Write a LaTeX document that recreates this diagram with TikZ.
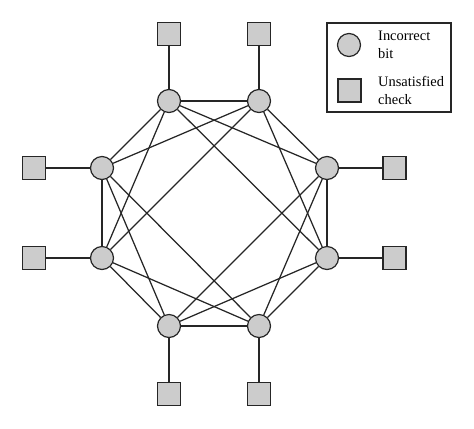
\documentclass[tikz,border=0pt]{standalone}
\usepackage{fontspec}
\setmainfont{Liberation Serif}
\begin{document}
\begin{tikzpicture}[x=1bp,y=-1bp,
  bitnode/.style={circle,draw=black!85,fill=black!20,line width=1.2bp,minimum size=23bp,inner sep=0pt},
  checknode/.style={rectangle,draw=black!85,fill=black!20,line width=1.2bp,minimum size=23bp,inner sep=0pt},
  link/.style={draw=black!85,line width=1.25bp},
  legtext/.style={anchor=west,align=left,font=\fontsize{14.5}{17.4}\selectfont,inner sep=0pt}]
\useasboundingbox (0,0) rectangle (474,428);
% legend
\node[draw=black!85,line width=1.1bp,minimum width=124bp,minimum height=89bp,inner sep=0pt] (legend) at (389,67.5) {};
\node[bitnode] (lbit) at (349,45) {};
\node[checknode] (lchk) at (349.5,90.5) {};
\node[legtext] (tbit) at (378,45) {Incorrect\\bit};
\node[legtext] (tchk) at (378,90.5) {Unsatisfied\\check};
% checks
\node[checknode] (cT1) at (169,34) {};
\node[checknode] (cT2) at (259,34) {};
\node[checknode] (cR1) at (394.5,168) {};
\node[checknode] (cR2) at (394.5,258) {};
\node[checknode] (cB2) at (259,394) {};
\node[checknode] (cB1) at (169,394) {};
\node[checknode] (cL2) at (34,258) {};
\node[checknode] (cL1) at (34,168) {};
% bits
\node[bitnode] (T1) at (169,101) {};
\node[bitnode] (T2) at (259,101) {};
\node[bitnode] (R1) at (327,168) {};
\node[bitnode] (R2) at (327,258) {};
\node[bitnode] (B2) at (259,326) {};
\node[bitnode] (B1) at (169,326) {};
\node[bitnode] (L2) at (102,258) {};
\node[bitnode] (L1) at (102,168) {};
% edges
\foreach \a/\b in {T1/T2,T2/R1,R1/R2,R2/B2,B2/B1,B1/L2,L2/L1,L1/T1,
  T1/R1,T1/L2,T2/R2,T2/L1,R1/B2,R2/B1,B2/L2,B1/L1,
  T1/R2,T2/L2,L1/B2,R1/B1,
  T1/cT1,T2/cT2,R1/cR1,R2/cR2,B2/cB2,B1/cB1,L2/cL2,L1/cL1}
  {\draw[link] (\a) -- (\b);}
\end{tikzpicture}
\end{document}
